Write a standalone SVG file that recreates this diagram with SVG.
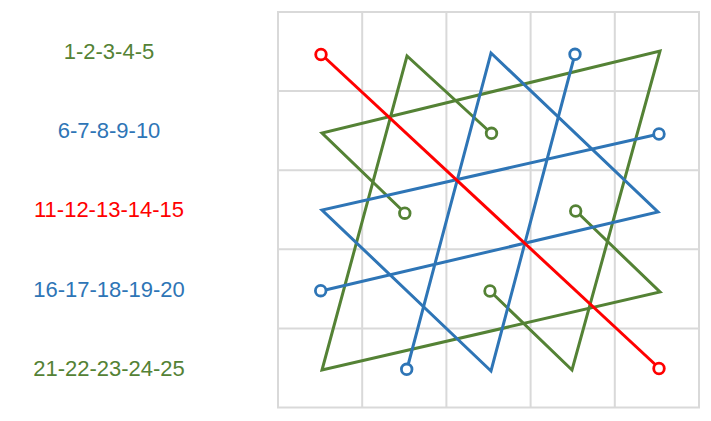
<svg xmlns="http://www.w3.org/2000/svg" width="711" height="421" viewBox="0 0 711 421">
<style>
.grid{stroke:#D9D9D9;stroke-width:2;fill:none}
.ln{fill:none;stroke-width:3;stroke-linejoin:miter;stroke-linecap:butt}
.g{stroke:#548235}
.b{stroke:#2E75B6}
.r{stroke:#FF0000}
.end{fill:#FFFFFF;stroke-width:2.8}
.lbl{font-family:"Liberation Sans",Arial,sans-serif;font-size:22px;text-anchor:middle}
</style>
<rect width="711" height="421" fill="#FFFFFF"/>
<g id="grid" class="grid">
<rect x="278" y="12" width="421" height="395.5"/>
<line x1="362.2" y1="12" x2="362.2" y2="407.5"/>
<line x1="446.4" y1="12" x2="446.4" y2="407.5"/>
<line x1="530.6" y1="12" x2="530.6" y2="407.5"/>
<line x1="614.8" y1="12" x2="614.8" y2="407.5"/>
<line x1="278" y1="91.1" x2="699" y2="91.1"/>
<line x1="278" y1="170.2" x2="699" y2="170.2"/>
<line x1="278" y1="249.3" x2="699" y2="249.3"/>
<line x1="278" y1="328.4" x2="699" y2="328.4"/>
</g>
<g id="labels">
<text id="label-1" class="lbl" x="109" y="59" fill="#548235">1-2-3-4-5</text>
<text id="label-2" class="lbl" x="109" y="138" fill="#2E75B6">6-7-8-9-10</text>
<text id="label-3" class="lbl" x="109" y="217" fill="#FF0000">11-12-13-14-15</text>
<text id="label-4" class="lbl" x="109" y="296.5" fill="#2E75B6">16-17-18-19-20</text>
<text id="label-5" class="lbl" x="109" y="376" fill="#548235">21-22-23-24-25</text>
</g>
<g id="connectors">
<polyline id="green-a" class="ln g" points="491,133 407,56 322,370 660,292 576,211"/>
<polyline id="green-b" class="ln g" points="405,213 322,133 660,51 572,370 490,291"/>
<polyline id="blue-a" class="ln b" points="321,291 658,212 491,53 407,369"/>
<polyline id="blue-b" class="ln b" points="659,134 322,210 491,371 575,54"/>
<line id="red" class="ln r" x1="321" y1="54" x2="659" y2="368"/>
</g>
<g id="nodes">
<circle id="n-red-start" class="end r" cx="321" cy="54.5" r="5.3"/>
<circle id="n-red-end" class="end r" cx="659" cy="368.5" r="5.3"/>
<circle id="n-blue-a-start" class="end b" cx="320.7" cy="290.7" r="5.3"/>
<circle id="n-blue-a-end" class="end b" cx="406.7" cy="369.3" r="5.3"/>
<circle id="n-blue-b-start" class="end b" cx="659" cy="134" r="5.3"/>
<circle id="n-blue-b-end" class="end b" cx="575" cy="54.3" r="5.3"/>
<circle id="n-green-a-start" class="end g" cx="491.5" cy="133.3" r="5.3"/>
<circle id="n-green-a-end" class="end g" cx="575.7" cy="211" r="5.3"/>
<circle id="n-green-b-start" class="end g" cx="404.8" cy="213.2" r="5.3"/>
<circle id="n-green-b-end" class="end g" cx="490" cy="291" r="5.3"/>
</g>
</svg>
